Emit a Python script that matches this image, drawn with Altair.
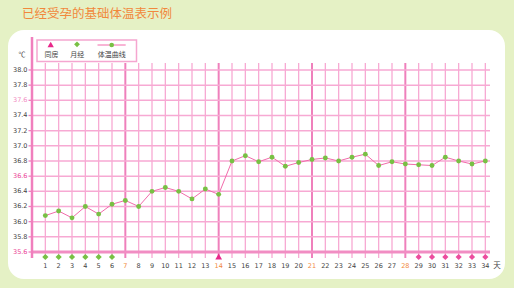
import altair as alt
import pandas as pd

# ---------------- data ----------------
title_text = "已经受孕的基础体温表示例"
days = list(range(1, 35))
temps = [36.08, 36.14, 36.05, 36.20, 36.10, 36.23, 36.28, 36.20, 36.40, 36.45,
         36.40, 36.30, 36.43, 36.36, 36.80, 36.87, 36.79, 36.85, 36.73, 36.78,
         36.82, 36.84, 36.80, 36.85, 36.89, 36.74, 36.79, 36.76, 36.75, 36.74,
         36.85, 36.80, 36.76, 36.80]
menses_days = [1, 2, 3, 4, 5, 6]
intercourse_days = [14]
late_days = [29, 30, 31, 32, 33, 34]
y_ticks = [35.6, 35.8, 36.0, 36.2, 36.4, 36.6, 36.8, 37.0, 37.2, 37.4, 37.6, 37.8, 38.0]
grid_temps = [35.8, 36.0, 36.2, 36.4, 36.6, 36.8, 37.0, 37.2, 37.4, 37.6, 37.8, 38.0]
base_temp = [35.6]
legend_labels = ["同房", "月经", "体温曲线"]
unit_y = "℃"
unit_x = "天"

# ---------------- style ----------------
BG = "#e5f1c5"
GRID = "#f7a9d3"
GRID_DARK = "#ef80bc"
AXIS = "#f07fbd"
LINE = "#f26bab"
GREEN = "#78c044"
MAGENTA = "#e8288a"
PINKD = "#ec4c9e"
ORANGE = "#f1883c"
TXT = "#444444"
NUM_FONT = "DejaVu Sans"
CJK = "Noto Sans CJK SC"

W, H = 458, 189
OX, OY = 32, 63  # plot origin in page pixels


def px(x):
    return x - OX


def py(y):
    return y - OY


xs = alt.Scale(domain=[0, 34.35], nice=False, zero=False)
ys = alt.Scale(domain=[35.6, 38.092], nice=False, zero=False)

df = pd.DataFrame({"day": days, "temp": temps})

# panel
panel = alt.Chart(pd.DataFrame({"a": [0]})).mark_rect(
    color="white", cornerRadius=16
).encode(x=alt.value(px(8)), x2=alt.value(px(505)), y=alt.value(py(30)), y2=alt.value(py(279)))

# vertical grid (extends below the base line as x ticks)
vgrid = alt.Chart(pd.DataFrame({"day": days})).mark_rule().encode(
    x=alt.X("day:Q", scale=xs, axis=None),
    y=alt.value(0),
    y2=alt.value(py(258)),
    color=alt.condition("datum.day % 7 == 0", alt.value(GRID_DARK), alt.value(GRID)),
    strokeWidth=alt.condition("datum.day % 7 == 0", alt.value(2), alt.value(1.3)),
)

# horizontal grid
hgrid = alt.Chart(pd.DataFrame({"t": grid_temps})).mark_rule(color=GRID, strokeWidth=1.5).encode(
    y=alt.Y("t:Q", scale=ys, axis=None),
    x=alt.value(0),
    x2=alt.value(W),
)

base = alt.Chart(pd.DataFrame({"t": base_temp})).mark_rule(color="#f18dc3", strokeWidth=3).encode(
    y=alt.Y("t:Q", scale=ys, axis=None),
    x=alt.value(0),
    x2=alt.value(W),
)

yaxis_line = alt.Chart(pd.DataFrame({"a": [0]})).mark_rule(color=AXIS, strokeWidth=2.5).encode(
    x=alt.value(0), y=alt.value(py(37)), y2=alt.value(py(258))
)

# y ticks and labels
ytick_df = pd.DataFrame({"t": y_ticks})
yticks = alt.Chart(ytick_df).mark_rule(color=AXIS, strokeWidth=1.3).encode(
    y=alt.Y("t:Q", scale=ys, axis=None),
    x=alt.value(-3.5),
    x2=alt.value(0),
)
ylabels = alt.Chart(ytick_df).mark_text(
    font=NUM_FONT, fontSize=6.5, align="right", baseline="middle"
).encode(
    y=alt.Y("t:Q", scale=ys, axis=None),
    x=alt.value(px(27.5)),
    text=alt.Text("t:Q", format=".1f"),
    color=alt.Color(
        "t:O",
        scale=alt.Scale(
            domain=y_ticks,
            range=["#ea4596", TXT, TXT, TXT, TXT, "#ea4596", TXT, TXT, TXT, TXT, "#f28cc2", TXT, TXT],
        ),
        legend=None,
    ),
)

# x labels
xlabels = alt.Chart(pd.DataFrame({"day": days})).mark_text(
    font=NUM_FONT, fontSize=6.5, align="center", baseline="middle"
).encode(
    x=alt.X("day:Q", scale=xs, axis=None),
    y=alt.value(py(266)),
    text=alt.Text("day:Q"),
    color=alt.condition("datum.day % 7 == 0", alt.value(ORANGE), alt.value(TXT)),
)

line = alt.Chart(df).mark_line(color=LINE, strokeWidth=1).encode(
    x=alt.X("day:Q", scale=xs, axis=None),
    y=alt.Y("temp:Q", scale=ys, axis=None),
)

points = alt.Chart(df).mark_point(filled=True, opacity=1, color=GREEN, size=24).encode(
    x=alt.X("day:Q", scale=xs, axis=None),
    y=alt.Y("temp:Q", scale=ys, axis=None),
)

menses = alt.Chart(pd.DataFrame({"day": menses_days})).mark_point(
    shape="diamond", filled=True, opacity=1, color=GREEN, size=38
).encode(x=alt.X("day:Q", scale=xs, axis=None), y=alt.value(py(257)))

late = alt.Chart(pd.DataFrame({"day": late_days})).mark_point(
    shape="diamond", filled=True, opacity=1, color=PINKD, size=38
).encode(x=alt.X("day:Q", scale=xs, axis=None), y=alt.value(py(257)))

inter = alt.Chart(pd.DataFrame({"day": intercourse_days})).mark_point(
    shape="triangle-up", filled=True, opacity=1, color=MAGENTA, size=45
).encode(x=alt.X("day:Q", scale=xs, axis=None), y=alt.value(py(256.5)))

# legend box
leg_box = alt.Chart(pd.DataFrame({"a": [0]})).mark_rect(
    fill="white", stroke="#f5a6d0", strokeWidth=1.5
).encode(x=alt.value(px(37)), x2=alt.value(px(136.5)), y=alt.value(py(40)), y2=alt.value(py(61.5)))

leg_tri = alt.Chart(pd.DataFrame({"a": [0]})).mark_point(
    shape="triangle-up", filled=True, opacity=1, color=MAGENTA, size=40
).encode(x=alt.value(px(50.7)), y=alt.value(py(44.5)))

leg_dia = alt.Chart(pd.DataFrame({"a": [0]})).mark_point(
    shape="diamond", filled=True, opacity=1, color=GREEN, size=34
).encode(x=alt.value(px(77)), y=alt.value(py(44.3)))

leg_line = alt.Chart(pd.DataFrame({"a": [0]})).mark_rule(color=LINE, strokeWidth=1).encode(
    x=alt.value(px(97.5)), x2=alt.value(px(125.7)), y=alt.value(py(45))
)

leg_dot = alt.Chart(pd.DataFrame({"a": [0]})).mark_point(
    filled=True, opacity=1, color=GREEN, size=22
).encode(x=alt.value(px(111.7)), y=alt.value(py(45)))

leg_xs = [51.5, 77.3, 111.7]
leg_text = alt.layer(*[
    alt.Chart(pd.DataFrame({"label": [lab]})).mark_text(
        font=CJK, fontSize=7, color=TXT, align="center", baseline="middle"
    ).encode(text="label:N", x=alt.value(px(xx)), y=alt.value(py(54.5)))
    for lab, xx in zip(legend_labels, leg_xs)
])

title = alt.Chart(pd.DataFrame({"label": [title_text]})).mark_text(
    font=CJK, fontSize=12.5, color=ORANGE, align="left", baseline="middle"
).encode(text="label:N", x=alt.value(px(22)), y=alt.value(py(13.5)))

cdeg = alt.Chart(pd.DataFrame({"label": [unit_y]})).mark_text(
    font=CJK, fontSize=7, color=TXT, align="center", baseline="middle"
).encode(text="label:N", x=alt.value(px(22)), y=alt.value(py(55)))

tian = alt.Chart(pd.DataFrame({"label": [unit_x]})).mark_text(
    font=CJK, fontSize=7.5, color=TXT, align="center", baseline="middle"
).encode(text="label:N", x=alt.value(px(497)), y=alt.value(py(266)))

chart = alt.layer(
    panel, vgrid, hgrid, base, yaxis_line, yticks, ylabels, xlabels, line, points,
    menses, late, inter,
    leg_box, leg_tri, leg_dia, leg_line, leg_dot, leg_text, title, cdeg, tian,
).resolve_scale(color="independent").properties(
    width=W, height=H,
    autosize=alt.AutoSizeParams(type="none"),
    padding={"left": OX, "top": OY, "right": 514 - OX - W, "bottom": 288 - OY - H},
).configure(background=BG).configure_view(stroke=None)

chart.save("out.html", embed_options={"renderer": "svg", "actions": False})
